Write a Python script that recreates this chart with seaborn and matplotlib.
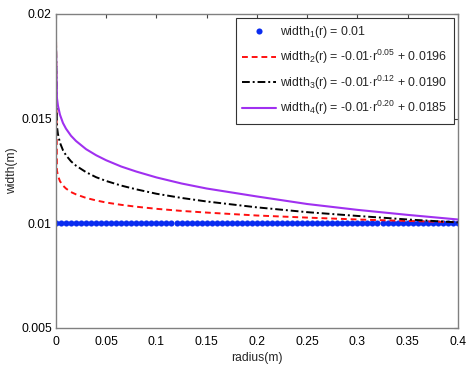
"""Width profiles along the radius, MATLAB-style figure."""
import numpy as np
import pandas as pd
import matplotlib
matplotlib.use('Agg')
import matplotlib.pyplot as plt
import seaborn as sns

# ----------------------------------------------------------------------------
# data
# ----------------------------------------------------------------------------
radius_dots = np.linspace(0, 0.4, 81)          # sample positions of the dotted series
width1 = [0.01] * len(radius_dots)

radius = [0, 0.001, 0.002, 0.004, 0.007, 0.01, 0.015, 0.02, 0.03, 0.04, 0.05,
          0.065, 0.08, 0.1, 0.125, 0.15, 0.2, 0.25, 0.3, 0.35, 0.4]
width2 = [0.0196, 0.01252, 0.01227, 0.01201, 0.01180, 0.01166, 0.01149, 0.01138,
          0.01121, 0.01109, 0.01099, 0.01088, 0.01079, 0.01069, 0.01059, 0.01051,
          0.01037, 0.01027, 0.01018, 0.01011, 0.01005]
width3 = [0.0190, 0.01463, 0.01426, 0.01385, 0.01349, 0.01325, 0.01296, 0.01275,
          0.01244, 0.01220, 0.01202, 0.01180, 0.01162, 0.01141, 0.01121, 0.01104,
          0.01076, 0.01053, 0.01035, 0.01018, 0.01004]
width4 = [0.0185, 0.01599, 0.01562, 0.01519, 0.01479, 0.01452, 0.01418, 0.01393,
          0.01354, 0.01325, 0.01301, 0.01271, 0.01247, 0.01219, 0.01190, 0.01166,
          0.01128, 0.01092, 0.01064, 0.01040, 0.01018]

labels = [r'width$_1$(r) = 0.01',
          r'width$_2$(r) = -0.01$\cdot$r$^{0.05}$ + 0.0196',
          r'width$_3$(r) = -0.01$\cdot$r$^{0.12}$ + 0.0190',
          r'width$_4$(r) = -0.01$\cdot$r$^{0.20}$ + 0.0185']

xticks = [0, 0.05, 0.1, 0.15, 0.2, 0.25, 0.3, 0.35, 0.4]
xticklabels = ['0', '0.05', '0.1', '0.15', '0.2', '0.25', '0.3', '0.35', '0.4']
yticks = [0.005, 0.01, 0.015, 0.02]
yticklabels = ['0.005', '0.01', '0.015', '0.02']

# ----------------------------------------------------------------------------
sns.set_style('white')
plt.rcParams['font.family'] = ['Liberation Sans', 'DejaVu Sans']
plt.rcParams['mathtext.fontset'] = 'custom'
plt.rcParams['mathtext.rm'] = 'Liberation Sans'
plt.rcParams['mathtext.it'] = 'Liberation Sans'

fig = plt.figure(figsize=(4.74, 3.68), dpi=100)
ax = fig.add_axes([0.118, 0.109, 0.848, 0.853])

df_dots = pd.DataFrame({'radius': radius_dots, 'width': width1})
df = pd.DataFrame({'radius': radius, 'w2': width2, 'w3': width3, 'w4': width4})

sns.lineplot(data=df_dots, x='radius', y='width', ax=ax, color='#0a2cf0',
             linestyle='none', marker='o', markersize=4.4, markeredgewidth=0,
             label=labels[0])
sns.lineplot(data=df, x='radius', y='w2', ax=ax, color='#ff1010', lw=1.4,
             linestyle=(0, (3, 2)), label=labels[1])
sns.lineplot(data=df, x='radius', y='w3', ax=ax, color='black', lw=1.4,
             linestyle=(0, (4, 1.5, 1, 1.5)), label=labels[2])
sns.lineplot(data=df, x='radius', y='w4', ax=ax, color='#a030f0', lw=1.5,
             linestyle='-', label=labels[3])

ax.set_xlim(0, 0.4)
ax.set_ylim(0.005, 0.02)
ax.set_xticks(xticks)
ax.set_xticklabels(xticklabels)
ax.set_yticks(yticks)
ax.set_yticklabels(yticklabels)
ax.set_xlabel('radius(m)', fontsize=8.7, labelpad=3)
ax.set_ylabel('width(m)', fontsize=8.7, labelpad=2)

ax.tick_params(direction='in', top=True, right=True, length=3, width=0.8,
               color='#444444', labelsize=8.7, pad=3, labelcolor='black')
ax.tick_params(axis='x', pad=6)
for sp in ax.spines.values():
    sp.set_color('#808080')
    sp.set_linewidth(1.0)

leg = ax.legend(loc='upper right', fontsize=8.9, frameon=True, fancybox=False,
                framealpha=1, edgecolor='#333333', handlelength=2.8,
                labelspacing=0.6, borderaxespad=0.35, handletextpad=0.3,
                borderpad=0.5)
leg.get_frame().set_linewidth(0.8)

fig.savefig('out.png', dpi=100)
